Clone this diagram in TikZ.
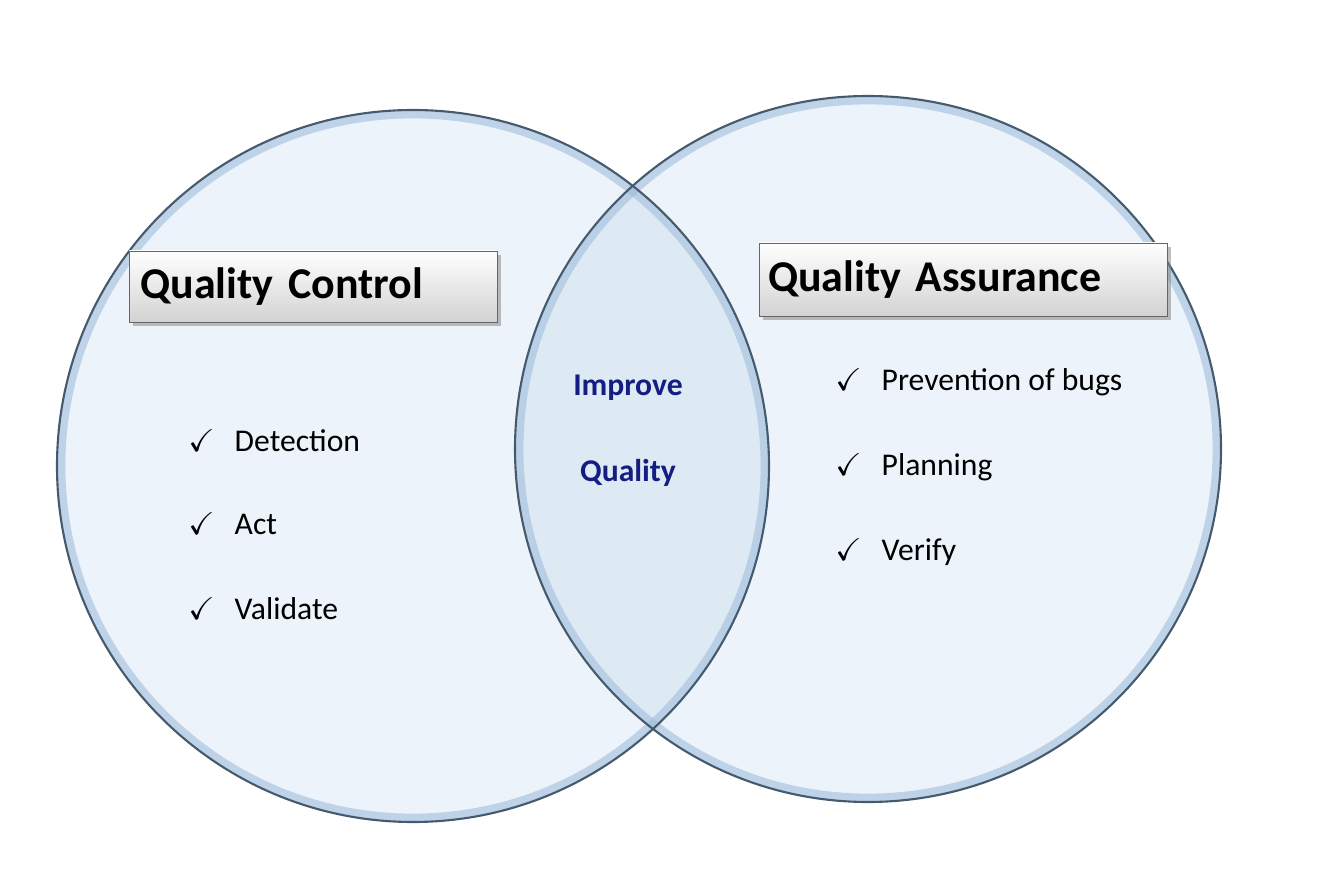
\documentclass[tikz,border=0pt]{standalone}
\usepackage{amssymb}
\usepackage{fontspec}
\setmainfont{Carlito}
\usetikzlibrary{positioning,shadows}
\definecolor{ringblue}{RGB}{70,90,110}
\definecolor{glowblue}{RGB}{160,190,220}
\definecolor{setfill}{RGB}{236,243,250}
\definecolor{capfill}{RGB}{221,233,243}
\definecolor{improveblue}{RGB}{20,30,130}
\tikzstyle{setring} = [draw=ringblue, line width=1.2pt]
\tikzstyle{titlebox} = [rectangle, draw=gray!80!black, top color=white, bottom color=gray!35, drop shadow={opacity=0.5}, font=\fontsize{25}{28}\selectfont\bfseries, anchor=center]
\tikzstyle{item} = [anchor=west, font=\fontsize{18}{20}\selectfont, inner sep=0pt]
\tikzstyle{overlap} = [font=\fontsize{18}{20}\selectfont\bfseries, text=improveblue]

\begin{document}
\begin{tikzpicture}
    \useasboundingbox (0,0) rectangle (26.4,17.6);
    % Sets
    \fill[setfill] (8.26,8.28) circle (7.12);
    \fill[setfill] (17.36,8.62) circle (7.06);
    \begin{scope}
        \clip (8.26,8.28) circle (7.12);
        \fill[capfill] (17.36,8.62) circle (7.06);
    \end{scope}
    \draw[glowblue, line width=5pt, opacity=0.6] (8.26,8.28) circle (7.04);
    \draw[glowblue, line width=5pt, opacity=0.6] (17.36,8.62) circle (6.98);
    \draw[setring] (8.26,8.28) circle (7.12);
    \draw[setring] (17.36,8.62) circle (7.06);

    % Titles
    \node (qc) [titlebox, minimum width=7.36cm, minimum height=1.42cm, text width=6.9cm] at (6.26,11.87) {Quality Control};
    \node (qa) [titlebox, minimum width=8.16cm, minimum height=1.46cm, text width=7.8cm] at (19.26,12.01) {Quality Assurance};

    % Overlap
    \node (improve) [overlap] at (12.56,9.84) {Improve};
    \node (quality) [overlap] at (12.56,8.14) {Quality};

    % Items
    \node (detect) [item] at (3.76,8.78) {$\checkmark$\hspace{0.4cm}Detection};
    \node (act) [item] at (3.76,7.12) {$\checkmark$\hspace{0.4cm}Act};
    \node (valid) [item] at (3.76,5.42) {$\checkmark$\hspace{0.4cm}Validate};
    \node (prevent) [item] at (16.7,9.96) {$\checkmark$\hspace{0.4cm}Prevention of bugs};
    \node (plan) [item] at (16.7,8.26) {$\checkmark$\hspace{0.4cm}Planning};
    \node (verify) [item] at (16.7,6.56) {$\checkmark$\hspace{0.4cm}Verify};
\end{tikzpicture}
\end{document}
